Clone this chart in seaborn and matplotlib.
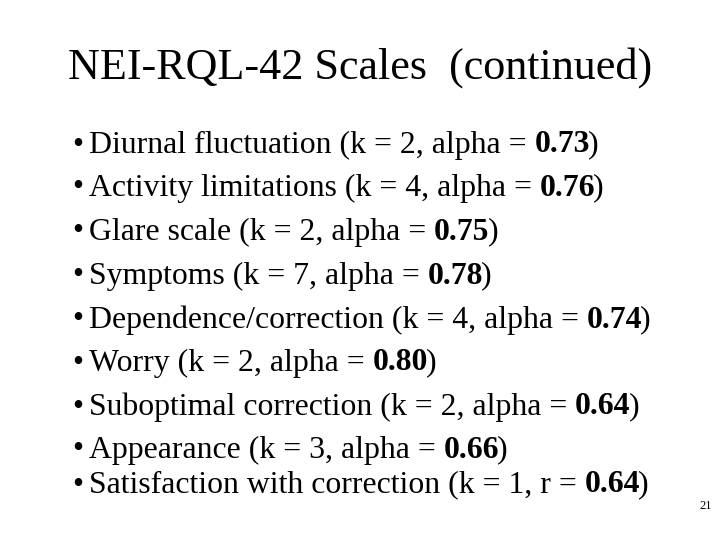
import matplotlib
matplotlib.use("Agg")
import matplotlib.pyplot as plt
import seaborn as sns

scales = ["Diurnal fluctuation", "Activity limitations", "Glare scale", "Symptoms",
          "Dependence/correction", "Worry", "Suboptimal correction", "Appearance",
          "Satisfaction with correction"]
k_values = [2, 4, 2, 7, 4, 2, 2, 3, 1]
stat_names = ["alpha"] * 8 + ["r"]
stat_values = ["0.73", "0.76", "0.75", "0.78", "0.74", "0.80", "0.64", "0.66", "0.64"]
title = "NEI-RQL-42 Scales  (continued)"
page = "21"

sns.set_theme(style="white")
plt.rcParams['font.family'] = ['Liberation Serif', 'DejaVu Serif']

fig = plt.figure(figsize=(7.2, 5.4), dpi=100)
fig.patch.set_facecolor("white")
ax = fig.add_axes([0, 0, 1, 1])
ax.set_xlim(0, 720); ax.set_ylim(540, 0); ax.axis("off")

ax.text(360, 68, title, fontsize=31.8, ha="center", va="center", color="black")
fig.canvas.draw()
r = fig.canvas.get_renderer()
inv = ax.transData.inverted()
fs = 22.9
y_pos = [145, 188, 232, 276, 320, 363, 407, 450, 485]
for y, s, k, sn, sv in zip(y_pos, scales, k_values, stat_names, stat_values):
    ax.text(78, y, "•", fontsize=fs, ha="center", va="center", color="black")
    t1 = ax.text(89, y, f"{s} (k = {k}, {sn} = ", fontsize=fs, va="center", color="black")
    bb = t1.get_window_extent(r)
    x = inv.transform((bb.x1, bb.y0))[0]
    t2 = ax.text(x, y, sv, fontsize=fs, va="center", fontweight="bold", color="black")
    bb = t2.get_window_extent(r)
    x = inv.transform((bb.x1, bb.y0))[0]
    ax.text(x - 2, y, ")", fontsize=fs, va="center", color="black")
ax.text(706, 506, page, fontsize=9, ha="center", va="center", color="black")
fig.savefig("out.png", dpi=100, facecolor="white")
